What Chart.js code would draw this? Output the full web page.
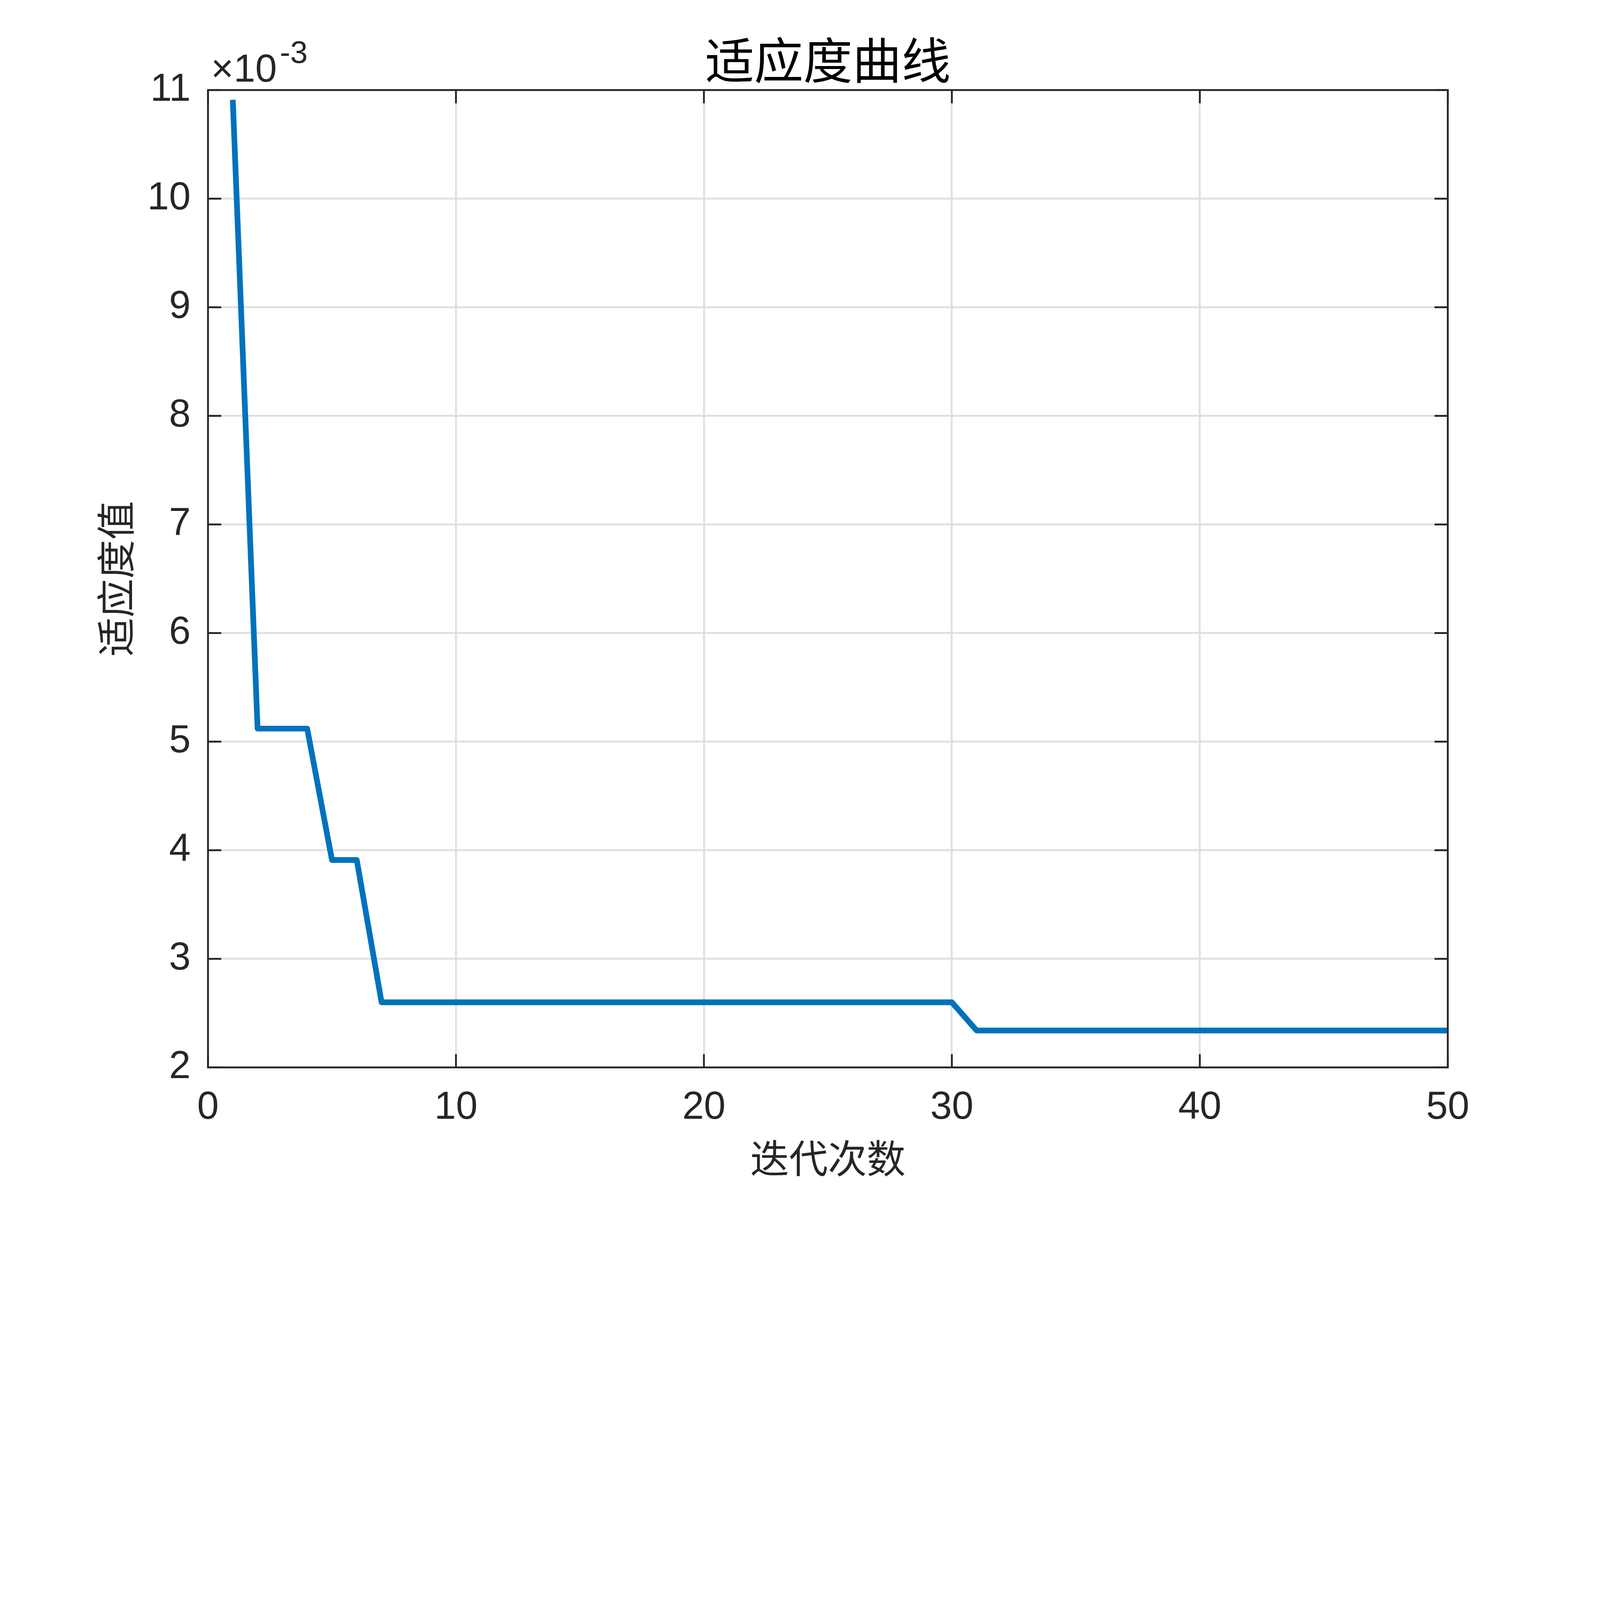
<!DOCTYPE html>
<html>
<head>
<meta charset="utf-8">
<script src="https://cdn.jsdelivr.net/npm/chart.js@4.4.1/dist/chart.umd.min.js"></script>
<style>
  html, body { margin: 0; padding: 0; background: #fff; overflow: hidden; }
  #wrap { position: absolute; left: 0; top: 0; }
</style>
</head>
<body>
<div id="wrap"><canvas id="fitnessChart"></canvas></div>
<script>
// iteration numbers (x) and best fitness per iteration, in units of 10^-3
const iterations = [
  1, 2, 3, 4, 5, 6, 7, 8, 9, 10,
  11, 12, 13, 14, 15, 16, 17, 18, 19, 20,
  21, 22, 23, 24, 25, 26, 27, 28, 29, 30,
  31, 32, 33, 34, 35, 36, 37, 38, 39, 40,
  41, 42, 43, 44, 45, 46, 47, 48, 49, 50
];
const fitnessValues = [
  10.91, 5.12, 5.12, 5.12, 3.91, 3.91, 2.60, 2.60, 2.60, 2.60,
  2.60, 2.60, 2.60, 2.60, 2.60, 2.60, 2.60, 2.60, 2.60, 2.60,
  2.60, 2.60, 2.60, 2.60, 2.60, 2.60, 2.60, 2.60, 2.60, 2.60,
  2.34, 2.34, 2.34, 2.34, 2.34, 2.34, 2.34, 2.34, 2.34, 2.34,
  2.34, 2.34, 2.34, 2.34, 2.34, 2.34, 2.34, 2.34, 2.34, 2.34
];
const xTicks = [0, 10, 20, 30, 40, 50];
const yTicks = [2, 3, 4, 5, 6, 7, 8, 9, 10, 11];
const yExponent = "-3";

const chartTitle = "适应度曲线";
const xTitle = "迭代次数";
const yTitle = "适应度值";

const axisColor = "#262626";
const gridColor = "#dfdfdf";
const lineColor = "#0072BD";
const numFont = "'Liberation Sans', Arial, Helvetica, sans-serif";
const cjkFont = "'Noto Sans CJK SC', sans-serif";

// layout is measured on a 7000x5250 page; k scales it to the real viewport
const W = 7000, H = 5250;
const k = Math.min((window.innerWidth || W) / W, (window.innerHeight || H) / H) || 1;
const px = v => v * k;

const wrap = document.getElementById("wrap");
wrap.style.width = px(W) + "px";
wrap.style.height = px(H) + "px";
const canvas = document.getElementById("fitnessChart");
canvas.style.width = px(W) + "px";
canvas.style.height = px(H) + "px";

const tickLen = px(58);
const boxWidth = px(8);

// box, inward ticks on all four sides and the x10^-3 multiplier
const matlabAxes = {
  id: "matlabAxes",
  afterDatasetsDraw(chart) {
    const { ctx, chartArea: a, scales: { x, y } } = chart;
    ctx.save();
    ctx.strokeStyle = axisColor;
    ctx.lineWidth = boxWidth;
    ctx.lineCap = "butt";
    ctx.beginPath();
    xTicks.forEach(v => {
      const p = x.getPixelForValue(v);
      ctx.moveTo(p, a.bottom); ctx.lineTo(p, a.bottom - tickLen);
      ctx.moveTo(p, a.top); ctx.lineTo(p, a.top + tickLen);
    });
    yTicks.forEach(v => {
      const p = y.getPixelForValue(v);
      ctx.moveTo(a.left, p); ctx.lineTo(a.left + tickLen, p);
      ctx.moveTo(a.right, p); ctx.lineTo(a.right - tickLen, p);
    });
    ctx.stroke();
    ctx.strokeRect(a.left, a.top, a.right - a.left, a.bottom - a.top);

    // multiplier label above the top-left corner
    ctx.fillStyle = axisColor;
    ctx.textAlign = "left";
    ctx.textBaseline = "alphabetic";
    ctx.font = px(170) + "px " + numFont;
    const base = "\u00d710";
    const bx = a.left + px(13);
    ctx.fillText(base, bx, a.top - px(37));
    const w = ctx.measureText(base).width;
    ctx.font = px(137) + "px " + numFont;
    ctx.fillText(yExponent, bx + w + px(13), a.top - px(119));
    ctx.restore();
  }
};

new Chart(canvas, {
  type: "line",
  data: {
    datasets: [{
      data: iterations.map((it, i) => ({ x: it, y: fitnessValues[i] })),
      borderColor: lineColor,
      borderWidth: px(25),
      borderJoinStyle: "round",
      pointRadius: 0,
      tension: 0,
      fill: false,
    }]
  },
  options: {
    responsive: false,
    animation: false,
    layout: { padding: { top: 0, left: 0, right: px(666), bottom: 0 } },
    plugins: {
      legend: { display: false },
      tooltip: { enabled: false },
      title: {
        display: true,
        text: chartTitle,
        fullSize: false,
        color: "#000",
        font: { family: cjkFont, size: px(215), weight: "normal", lineHeight: 1.2 },
        padding: { top: px(135), bottom: px(1) },
      },
    },
    scales: {
      x: {
        type: "linear",
        min: 0,
        max: 50,
        afterFit: s => { s.height = px(580); },
        afterBuildTicks: s => { s.ticks = xTicks.map(v => ({ value: v })); },
        grid: { color: gridColor, lineWidth: px(8), drawTicks: false },
        border: { display: false },
        ticks: {
          color: axisColor,
          padding: px(76),
          maxRotation: 0,
          font: { family: numFont, size: px(170), lineHeight: 1.2 },
        },
        title: {
          display: true,
          text: xTitle,
          color: axisColor,
          font: { family: cjkFont, size: px(170), lineHeight: 1.2 },
          padding: { top: 0, bottom: px(80) },
        },
      },
      y: {
        type: "linear",
        min: 2,
        max: 11,
        afterFit: s => { s.width = px(910); },
        afterBuildTicks: s => { s.ticks = yTicks.map(v => ({ value: v })); },
        grid: { color: gridColor, lineWidth: px(8), drawTicks: false },
        border: { display: false },
        ticks: {
          color: axisColor,
          padding: px(76),
          font: { family: numFont, size: px(170), lineHeight: 1.2 },
        },
        title: {
          display: true,
          text: yTitle,
          color: axisColor,
          font: { family: cjkFont, size: px(170), lineHeight: 1.2 },
          padding: { top: px(405), bottom: 0 },
        },
      },
    },
  },
  plugins: [matlabAxes],
});
</script>
</body>
</html>
